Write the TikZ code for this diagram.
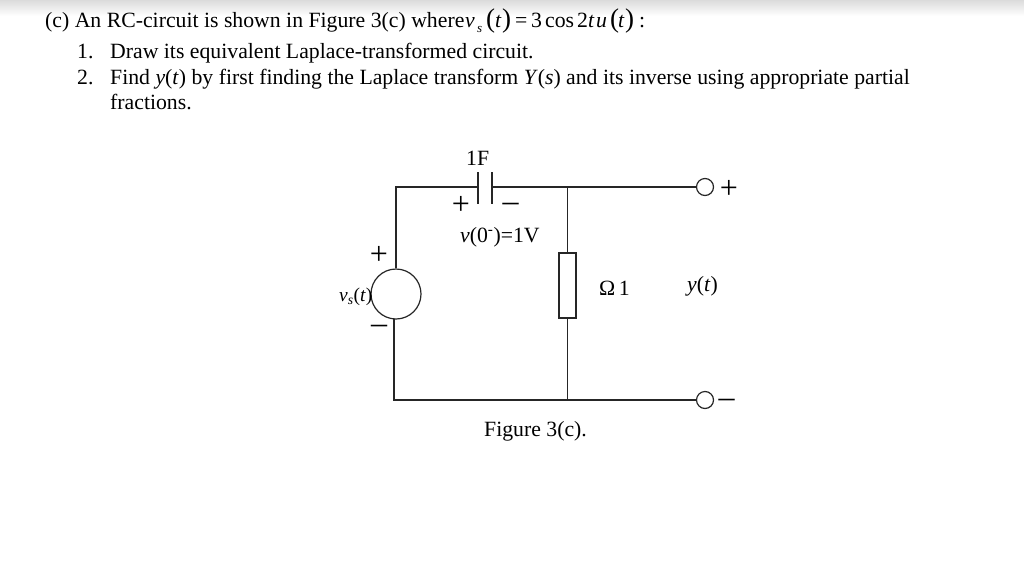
\documentclass[tikz,border=0pt]{standalone}
\usepackage{fontspec}
\setmainfont{Liberation Serif}
\usetikzlibrary{positioning}
\tikzset{
	txt/.style={anchor=base west,inner sep=0pt,font=\fontsize{21.75}{24}\selectfont},
	itx/.style={txt,font=\itshape\fontsize{21.75}{24}\selectfont},
	par/.style={anchor=base west,inner sep=0pt,font=\fontsize{27}{27}\selectfont},
	sgn/.style={inner sep=0pt,font=\fontsize{32}{32}\selectfont},
	wire/.style={draw=black!85,line width=1.3pt},
	tap/.style={draw=black!85,line width=1pt},
	term/.style={circle,draw=black!85,line width=1.2pt,minimum size=17pt,inner sep=0pt,fill=white},
	res/.style={rectangle,draw=black!85,line width=1.2pt,minimum width=17pt,minimum height=65pt,inner sep=0pt,fill=white},
	src/.style={circle,draw=black!85,line width=1.2pt,minimum size=50pt,inner sep=0pt,fill=white}
}
\begin{document}
\begin{tikzpicture}[x=1pt,y=-1pt]
	\useasboundingbox (0,0) rectangle (1024,576);
	\shade[top color=black!14,bottom color=white] (0,0) rectangle (1024,16);
	% question text
	\node[txt] (qa) at (45,27) {(c) An RC-circuit is shown in Figure 3(c) where};
	\node[itx] (qb) at (465,27) {v};
	\node[txt,font=\fontsize{13}{13}\selectfont\itshape] (qc) at (477,32) {s};
	\node[par] (qd) at (486,27.5) {(};
	\node[itx] (qe) at (495,27) {t};
	\node[par] (qf) at (502,27.5) {)};
	\node[txt] (qg) at (515,27) {=};
	\node[txt] (qh) at (531,27) {3};
	\node[txt] (qi) at (545,27) {cos};
	\node[txt] (qj) at (577,27) {2};
	\node[itx] (qk) at (588,27) {t};
	\node[itx] (ql) at (596,27) {u};
	\node[par] (qm) at (610,27.5) {(};
	\node[itx] (qn) at (618,27) {t};
	\node[par] (qo) at (625,27.5) {)};
	\node[txt] (qp) at (639,27) {:};
	\node[txt] (n1) at (77,58) {1.};
	\node[txt] (l1) at (110,58) {Draw its equivalent Laplace-transformed circuit.};
	\node[txt] (n2) at (77,84) {2.};
	\node[txt] (l2) at (110,84) {Find \textit{y}(\textit{t}) by first finding the Laplace transform \textit{Y}(\textit{s}) and its inverse using appropriate partial};
	\node[txt] (l3) at (110,109) {fractions.};
	% circuit
	\node[src] (vs) at (396,294) {};
	\node[res] (r1) at (567.5,285.5) {};
	\node[term] (tp) at (705,187) {};
	\node[term] (tm) at (705,400) {};
	\coordinate (tl) at (396,187);
	\coordinate (bl) at (394,400);
	\coordinate (vb) at (394,319);
	\coordinate (ca) at (478,187);
	\coordinate (cb) at (492,187);
	\coordinate (jt) at (567.5,187);
	\coordinate (jb) at (567.5,400);
	\coordinate (caU) at (478,172);
	\coordinate (caD) at (478,204);
	\coordinate (cbU) at (492,172);
	\coordinate (cbD) at (492,204);
	\draw[wire] (vs.north) -- (tl) -- (ca);
	\draw[wire] (caU) -- (caD);
	\draw[wire] (cbU) -- (cbD);
	\draw[wire] (cb) -- (tp.west);
	\draw[tap] (jt) -- (r1.north);
	\draw[tap] (r1.south) -- (jb);
	\draw[wire] (vb) -- (bl) -- (tm.west);
	% labels
	\node[txt] (cv) at (466,165) {1F};
	\node[txt] (ic) at (460,242) {\textit{v}(0\textsuperscript{-})=1V};
	\node[txt] (rv) at (599,295) {Ω\,1};
	\node[txt] (vo) at (687,291) {\textit{y}(\textit{t})};
	\node[txt,font=\fontsize{19.5}{23}\selectfont] (vi) at (339,301) {\textit{v\textsubscript{s}}(\textit{t})};
	\node[sgn] (cp) at (461,205) {+};
	\node[sgn] (cm) at (510.5,207) {–};
	\node[sgn] (sp) at (379,255) {+};
	\node[sgn] (sm) at (379,329) {–};
	\node[sgn] (op) at (729,189) {+};
	\node[sgn] (om) at (726.5,403) {–};
	\node[txt] (fg) at (484,436) {Figure 3(c).};
\end{tikzpicture}
\end{document}
